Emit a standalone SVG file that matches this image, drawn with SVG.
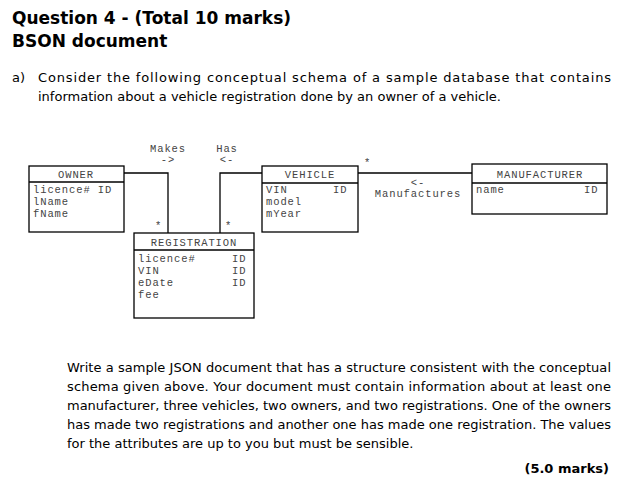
<svg xmlns="http://www.w3.org/2000/svg" width="643" height="491" viewBox="0 0 643 491">
<style>
.h{font-family:"DejaVu Sans",Verdana,sans-serif;font-weight:bold;font-size:17px;fill:#000}
.t{font-family:"DejaVu Sans",Verdana,sans-serif;font-size:13px;fill:#000}
.m{font-family:"Liberation Mono",monospace;font-size:10.5px;letter-spacing:0.9px;fill:#444}
.c{text-anchor:middle}
.b{fill:#fff;stroke:#000;stroke-width:1.3}
.l{fill:none;stroke:#000;stroke-width:1.3}
</style>
<rect width="643" height="491" fill="#fff"/>
<text class="h" x="12" y="24">Question 4 - (Total 10 marks)</text>
<text class="h" x="12" y="47">BSON document</text>
<text class="t" x="12" y="82">a)</text>
<text class="t" x="38" y="82" textLength="573" lengthAdjust="spacing">Consider the following conceptual schema of a sample database that contains</text>
<text class="t" x="38" y="101">information about a vehicle registration done by an owner of a vehicle.</text>
<g id="connectors">
<polyline class="l" points="124,173 168,173 168,233"/>
<polyline class="l" points="262,173 220,173 220,233"/>
<line class="l" x1="358" y1="173" x2="472" y2="173"/>
<text class="m c" x="168" y="152">Makes</text>
<text class="m c" x="168" y="163">-&gt;</text>
<text class="m c" x="227" y="152">Has</text>
<text class="m c" x="227" y="163">&lt;-</text>
<text class="m" x="155" y="229">*</text>
<text class="m" x="225" y="229">*</text>
<text class="m" x="364" y="166">*</text>
<text class="m c" x="418" y="186">&lt;-</text>
<text class="m c" x="418" y="197">Manufactures</text>
</g>
<g id="owner">
<rect class="b" x="29" y="166" width="95" height="66"/>
<line class="l" x1="29" y1="182" x2="124" y2="182"/>
<text class="m c" x="76" y="178">OWNER</text>
<text class="m" x="33" y="193">licence# ID</text>
<text class="m" x="33" y="205">lName</text>
<text class="m" x="33" y="217">fName</text>
</g>
<g id="registration">
<rect class="b" x="134" y="233" width="120" height="85"/>
<line class="l" x1="134" y1="250" x2="254" y2="250"/>
<text class="m c" x="194" y="246">REGISTRATION</text>
<text class="m" x="138" y="262">licence#</text><text class="m" x="232" y="262">ID</text>
<text class="m" x="138" y="274">VIN</text><text class="m" x="232" y="274">ID</text>
<text class="m" x="138" y="286">eDate</text><text class="m" x="232" y="286">ID</text>
<text class="m" x="138" y="298">fee</text>
</g>
<g id="vehicle">
<rect class="b" x="262" y="166" width="96" height="66"/>
<line class="l" x1="262" y1="183" x2="358" y2="183"/>
<text class="m c" x="310" y="178">VEHICLE</text>
<text class="m" x="266" y="193">VIN</text><text class="m" x="333" y="193">ID</text>
<text class="m" x="266" y="205">model</text>
<text class="m" x="266" y="217">mYear</text>
</g>
<g id="manufacturer">
<rect class="b" x="472" y="164" width="135" height="50"/>
<line class="l" x1="472" y1="183" x2="607" y2="183"/>
<text class="m c" x="540" y="178">MANUFACTURER</text>
<text class="m" x="476" y="193">name</text><text class="m" x="584" y="193">ID</text>
</g>
<text class="t" x="67" y="372" textLength="544" lengthAdjust="spacing">Write a sample JSON document that has a structure consistent with the conceptual</text>
<text class="t" x="67" y="391" textLength="544" lengthAdjust="spacing">schema given above. Your document must contain information about at least one</text>
<text class="t" x="67" y="410" textLength="544" lengthAdjust="spacing">manufacturer, three vehicles, two owners, and two registrations. One of the owners</text>
<text class="t" x="67" y="429" textLength="544" lengthAdjust="spacing">has made two registrations and another one has made one registration. The values</text>
<text class="t" x="67" y="448">for the attributes are up to you but must be sensible.</text>
<text class="t" x="609" y="473" text-anchor="end" font-weight="bold">(5.0 marks)</text>
</svg>
